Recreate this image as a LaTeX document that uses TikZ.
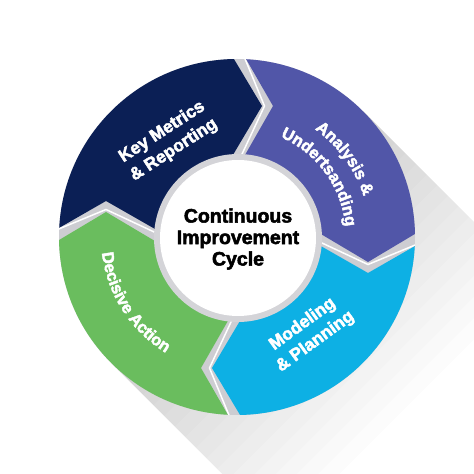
\documentclass[tikz,border=0pt]{standalone}
\usepackage{fontspec}
\setmainfont{Liberation Sans}[BoldFeatures={FakeBold=2.6}]
\usetikzlibrary{decorations.text}
\definecolor{navy}{HTML}{0B1F55}
\definecolor{purp}{HTML}{5156A8}
\definecolor{cyanb}{HTML}{0DB0E4}
\definecolor{greenb}{HTML}{6ABD5E}
\definecolor{gapgray}{HTML}{CDCDD2}
\definecolor{ringgray}{HTML}{D4D4D8}
\newcommand\lblfont{\fontsize{16.5}{18}\selectfont\bfseries\color{white}}
\tikzset{
  seglabel/.style={align=center, text=white, font=\fontsize{17.5}{21.5}\selectfont\bfseries},
  shadowlayer/.style={fill=black, fill opacity=0.011},
  curvelabel/.style={decorate, decoration={text along path, text align=center, text={#1}}}
}
\begin{document}
\begin{tikzpicture}[x=1pt,y=1pt]
\useasboundingbox (0,0) rectangle (474,474);
\fill[white] (0,0) rectangle (474,474);
% long shadow
\begin{scope}
\clip (0,0) rectangle (474,474);
\foreach \L in {15,30,...,240}{
  \path[shadowlayer] (363,363) -- ++(-45:\L) -- ++(225:356) -- (111,111) -- cycle;
}
\end{scope}
% base disk
\fill[gapgray] (237,237) circle (178);
% segments
\begin{scope}[shift={(237,237)}]
\clip (0,0) circle (178);
\foreach \ang/\col in {0/navy, -90/purp, 180/cyanb, 90/greenb}{
  \fill[\col, rotate=\ang] (-260,-38) -- (-131,36) -- (-40,-16) -- (-29,40) -- (25,131) -- (-52,260) -- (-260,260) -- cycle;
  \draw[white, line width=1.5pt, rotate=\ang] (-1,200) -- (27.5,131) -- (-1,70);
}
\end{scope}
% inner circle
\fill[ringgray] (238,236) circle (84);
\fill[white] (238,236) circle (78);
\node[align=center, font=\fontsize{19.5}{21.5}\selectfont\bfseries] (center) at (238,235) {Continuous\\Improvement\\Cycle};
% straight labels
\node[seglabel, rotate=33] (km) at (168,333) {Key Metrics\\\& Reporting};
\node[seglabel, rotate=36] (mp) at (309,141) {Modeling\\\& Planning};
% curved labels
\path[curvelabel={|\lblfont|Analysis {\&}}] (237,237) ++(96:133) arc[start angle=96, end angle=-24, radius=133];
\path[curvelabel={|\lblfont|Undertsanding}] (237,237) ++(96:109) arc[start angle=96, end angle=-24, radius=109];
\path[curvelabel={|\lblfont|Decisive Action}] (237,237) ++(142.6:136) arc[start angle=142.6, end angle=282.6, radius=136];
\end{tikzpicture}
\end{document}
